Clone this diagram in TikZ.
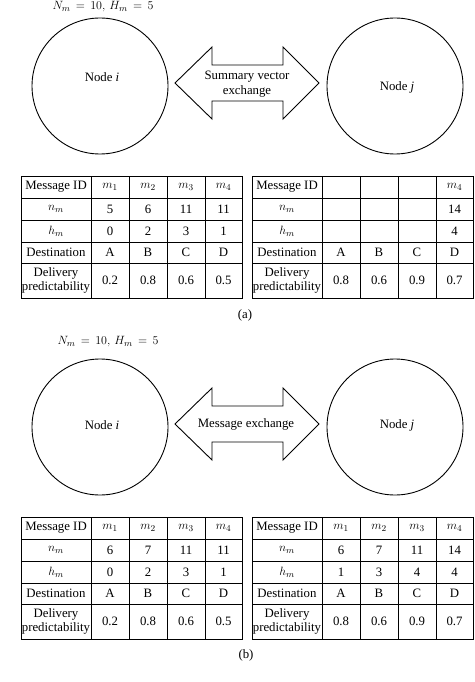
\documentclass[tikz,border=0pt]{standalone}
\usepackage{fontspec}
\setmainfont{Liberation Serif}
\newcommand\tgrid{%
  \draw[tline] (0,0) rectangle (221,122);
  \foreach \xx in {70,108,146,184} \draw[tline] (\xx,0) -- (\xx,122);
  \foreach \yy in {22,44,66,87} \draw[tline] (0,\yy) -- (221,\yy);}
\newcommand\trow[3]{%
  \foreach \t [count=\k] in {#3} {
    \pgfmathsetmacro\cx{{35,89,127,165,202.5}[\k-1]}
    \node[cell] (#1-\k) at (\cx,#2) {\t};
  }}
\begin{document}
\begin{tikzpicture}[x=1pt,y=-1pt,font=\fontsize{12.8}{14.5}\selectfont,
  circ/.style={circle,draw,line width=0.9pt,minimum size=136pt,inner sep=0pt},
  lbl/.style={inner sep=0pt,align=center},
  cell/.style={inner sep=0pt,align=center},
  tline/.style={draw,line width=0.9pt},
  arrowshape/.style={draw,line width=0.9pt,line join=miter}]
\useasboundingbox (0,0) rectangle (474,682);
\fill[white] (0,0) rectangle (474,682);

% ---------- (a) ----------
\node[lbl] (nha) at (103,7) {$N_m\,=\,10,\,H_m\,=\,5$};
\node[circ] (nia) at (100,86) {};
\node[circ] (nja) at (395,86) {};
\node[lbl] (tia) at (102,77) {Node \textit{i}};
\node[lbl] (tja) at (397,87) {Node \textit{j}};
\draw[arrowshape] (175,83) -- (212,47) -- (212,65) -- (283,65) -- (283,47) -- (319,83)
  -- (283,119) -- (283,101) -- (212,101) -- (212,119) -- cycle;
\node[lbl] (sva) at (247,84) {Summary vector\\exchange};

\begin{scope}[shift={(21,176)}]
  \tgrid
  \trow{la}{11}{Message ID,{$m_1$},{$m_2$},{$m_3$},{$m_4$}}
  \trow{lb}{33}{{$n_m$},5,6,11,11}
  \trow{lc}{55}{{$h_m$},0,2,3,1}
  \trow{ld}{76.5}{Destination,A,B,C,D}
  \trow{le}{104.5}{{Delivery\\predictability},0.2,0.8,0.6,0.5}
\end{scope}
\begin{scope}[shift={(252,176)}]
  \tgrid
  \trow{ra}{11}{Message ID,{},{},{},{$m_4$}}
  \trow{rb}{33}{{$n_m$},{},{},{},14}
  \trow{rc}{55}{{$h_m$},{},{},{},4}
  \trow{rd}{76.5}{Destination,A,B,C,D}
  \trow{re}{104.5}{{Delivery\\predictability},0.8,0.6,0.9,0.7}
\end{scope}
\node[lbl] (capa) at (245,315) {(a)};

% ---------- (b) ----------
\node[lbl] (nhb) at (108,342) {$N_m\,=\,10,\,H_m\,=\,5$};
\node[circ] (nib) at (100,427) {};
\node[circ] (njb) at (395,427) {};
\node[lbl] (tib) at (102,425) {Node \textit{i}};
\node[lbl] (tjb) at (397,425) {Node \textit{j}};
\draw[arrowshape] (175,424) -- (212,388) -- (212,406) -- (283,406) -- (283,388) -- (319,424)
  -- (283,460) -- (283,442) -- (212,442) -- (212,460) -- cycle;
\node[lbl] (meb) at (246,424) {Message exchange};

\begin{scope}[shift={(21,517)}]
  \tgrid
  \trow{lf}{11}{Message ID,{$m_1$},{$m_2$},{$m_3$},{$m_4$}}
  \trow{lg}{33}{{$n_m$},6,7,11,11}
  \trow{lh}{55}{{$h_m$},0,2,3,1}
  \trow{li}{76.5}{Destination,A,B,C,D}
  \trow{lj}{104.5}{{Delivery\\predictability},0.2,0.8,0.6,0.5}
\end{scope}
\begin{scope}[shift={(252,517)}]
  \tgrid
  \trow{rf}{11}{Message ID,{$m_1$},{$m_2$},{$m_3$},{$m_4$}}
  \trow{rg}{33}{{$n_m$},6,7,11,14}
  \trow{rh}{55}{{$h_m$},1,3,4,4}
  \trow{ri}{76.5}{Destination,A,B,C,D}
  \trow{rj}{104.5}{{Delivery\\predictability},0.8,0.6,0.9,0.7}
\end{scope}
\node[lbl] (capb) at (246,655) {(b)};
\end{tikzpicture}
\end{document}
